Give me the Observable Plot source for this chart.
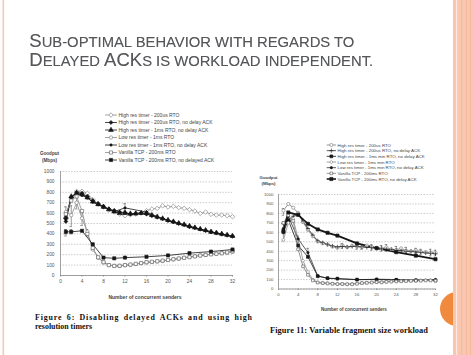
<!DOCTYPE html>
<html><head><meta charset="utf-8">
<script src="https://cdn.jsdelivr.net/npm/d3@7"></script>
<script src="https://cdn.jsdelivr.net/npm/@observablehq/plot@0.6"></script>
<style>
html,body{margin:0;padding:0;background:#fff;}
#page{position:relative;width:474px;height:355px;overflow:hidden;background:#fff;}
#page > svg{position:absolute;}
</style>
</head><body><div id="page"></div>
<script>
// ---------- data ----------
const xTicks = [0, 4, 8, 12, 16, 20, 24, 28, 32];
const yTicks = [0, 100, 200, 300, 400, 500, 600, 700, 800, 900, 1000];
const xDense = [1,2,3,4,5,6,7,8,9,10,11,12,13,14,15,16,17,18,19,20,21,22,23,24,25,26,27,28,29,30,31,32];
const xSparse = [1,2,4,6,8,10,12,16,20,24,28,32];
const xSparse2 = [1,2,3,4,5,6,7,8,9,10,12,16,20,24,28,32];

const leftLegend = [
  "High res timer - 200us RTO",
  "High res timer - 200us RTO, no delay ACK",
  "High res timer - 1ms RTO, no delay ACK",
  "Low res timer - 1ms RTO",
  "Low res timer - 1ms RTO, no delay ACK",
  "Vanilla TCP - 200ms RTO",
  "Vanilla TCP - 200ms RTO, no delayed ACK"
];
const rightLegend = [
  "High res timer - 200us RTO",
  "High res timer - 200us RTO, no delay ACK",
  "High res timer - 1ms min RTO, no delay ACK",
  "Low res timer - 1ms min RTO",
  "Low res timer - 1ms min RTO, no delay ACK",
  "Vanilla TCP - 200ms RTO",
  "Vanilla TCP - 200ms RTO, no delay ACK"
];

// Figure 6 (left)
const leftHiRes200 = [560,740,810,810,790,730,690,660,630,610,590,575,585,590,600,623,640,645,670,658,665,652,645,633,620,597,610,588,581,581,575,565];
const leftHiRes200NoDelay = [520,750,800,790,760,720,690,665,640,625,610,605,590,598,600,590,575,560,545,530,515,500,488,470,458,445,432,420,408,397,387,378];
const leftHiRes1msNoDelay = [560,760,790,780,750,710,685,660,635,615,600,600,595,595,600,600,580,565,548,533,518,503,490,475,460,447,435,420,410,400,390,380];
const leftLoRes1ms = [610,580,700,550,420,250,170,125,100,92,93,98,103,110,118,125,130,135,140,148,155,162,170,178,185,192,198,205,210,215,220,228];
const leftLoRes1msNoDelay = [540,750,790,770,745,705,680,655,640,615,650,610,525,465,415,375];
const leftVanilla = [590,720,760,620,400,265,175,128,100,92,93,100,105,112,120,128,132,137,143,150,156,163,170,176,184,192,198,204,209,214,222,232];
const leftVanillaNoDelay = [420,420,430,300,172,165,172,180,193,215,230,250];
const leftErrX  = [1,1,2,2,3,4,5,12,1];
const leftErrLo = [540,400,470,400,640,480,380,620,380];
const leftErrHi = [660,440,670,440,760,620,440,690,440];

// Figure 11 (right)
const rightHiRes200 = [830,900,860,805,707,625,558,502,484,470,449,435,463,442,459,449,442,459,445,435,430,440,420,415,430,405,400,410,395,390,385,385];
const rightHiRes200NoDelay = [690,720,770,790,720,640,570,510,490,472,455,445,450,445,450,452,446,440,438,432,428,420,418,410,405,400,398,392,387,382,378,372];
const rightHiRes1msNoDelay = [600,730,460,340,135,115,110,100,100,97,92,90];
const rightLoRes1ms = [520,700,740,530,300,180,100,70,65,62,58,55,55,52,55,60,65,68,70,75,72,78,80,82,85,85,88,88,90,92,92,95];
const rightLoRes1msNoDelay = [640,770,530,385,140,112,108,98,104,100,95,100];
const rightVanilla = [700,780,720,420,240,150,90,68,62,58,55,52,52,50,50,55,62,65,68,72,70,75,78,80,82,84,86,88,88,90,90,88];
const rightVanillaNoDelay = [615,810,785,690,630,595,565,482,432,390,353,315];
const rightErrX  = [1,1,4,6,13,16,17,19,21,22,24,26,28,29,31,32];
const rightErrLo = [510,780,480,330,430,420,420,410,400,400,380,380,370,360,350,350];
const rightErrHi = [700,850,560,430,480,480,470,470,460,470,450,440,430,420,420,410];

// ---------- styles ----------
const GRAY = "#8a8a8a", BLACK = "#161616";
const leftSeries = [
  {x: xDense,   y: leftHiRes200,        line: GRAY,  sym: "diamond2", fill: "#fff", stroke: "#777", r: 2.0},
  {x: xDense,   y: leftHiRes200NoDelay, line: BLACK, sym: "diamond2", fill: BLACK, stroke: BLACK, r: 1.8},
  {x: xDense,   y: leftHiRes1msNoDelay, line: BLACK, sym: "triangle", fill: BLACK, stroke: BLACK, r: 1.8},
  {x: xDense,   y: leftLoRes1ms,        line: GRAY,  sym: "circle",   fill: "#fff", stroke: "#777", r: 1.7},
  {x: xSparse2, y: leftLoRes1msNoDelay, line: BLACK, sym: "circle",   fill: BLACK, stroke: BLACK, r: 1.2},
  {x: xDense,   y: leftVanilla,         line: GRAY,  sym: "square",   fill: "#fff", stroke: "#555", r: 1.8},
  {x: xSparse,  y: leftVanillaNoDelay,  line: BLACK, sym: "square",   fill: BLACK, stroke: BLACK, r: 1.8}
];
const rightSeries = [
  {x: xDense,  y: rightHiRes200,        line: GRAY,  sym: "circle",   fill: "#fff", stroke: "#777", r: 1.6, sw: 0.9},
  {x: xDense,  y: rightHiRes200NoDelay, line: BLACK, sym: "plus",     fill: "none", stroke: BLACK, r: 1.5, sw: 0.7},
  {x: xSparse, y: rightHiRes1msNoDelay, line: BLACK, sym: "square",   fill: BLACK, stroke: BLACK, r: 1.6, sw: 0.8},
  {x: xDense,  y: rightLoRes1ms,        line: GRAY,  sym: "diamond2", fill: "#fff", stroke: "#777", r: 1.5, sw: 0.8},
  {x: xSparse, y: rightLoRes1msNoDelay, line: BLACK, sym: "circle",   fill: BLACK, stroke: BLACK, r: 1.2, sw: 0.7},
  {x: xDense,  y: rightVanilla,         line: GRAY,  sym: "square",   fill: "#fff", stroke: "#555", r: 1.5, sw: 0.9},
  {x: xSparse, y: rightVanillaNoDelay,  line: BLACK, sym: "square",   fill: BLACK, stroke: BLACK, r: 1.8, sw: 1.8}
];

function seriesMarks(list, defaultSw) {
  const marks = [];
  for (const s of list) {
    const data = s.x.map((x, i) => ({x, y: s.y[i]}));
    marks.push(Plot.line(data, {x: "x", y: "y", stroke: s.line, strokeWidth: s.sw || defaultSw}));
  }
  for (const s of list) {
    const data = s.x.map((x, i) => ({x, y: s.y[i]}));
    marks.push(Plot.dot(data, {x: "x", y: "y", symbol: () => s.sym, r: s.r, fill: s.fill, stroke: s.stroke, strokeWidth: 0.6}));
  }
  return marks;
}
function errMarks(xs, lo, hi, color) {
  const data = xs.map((x, i) => ({x, lo: lo[i], hi: hi[i]}));
  return [
    Plot.ruleX(data, {x: "x", y1: "lo", y2: "hi", stroke: color, strokeWidth: 0.6}),
    Plot.ruleY(data, {y: "lo", x1: d => d.x - 0.25, x2: d => d.x + 0.25, stroke: color, strokeWidth: 0.6}),
    Plot.ruleY(data, {y: "hi", x1: d => d.x - 0.25, x2: d => d.x + 0.25, stroke: color, strokeWidth: 0.6})
  ];
}

function chart(opts, series, errs, fontSize, sw) {
  return Plot.plot({
    width: opts.width, height: opts.height,
    marginLeft: opts.ml, marginRight: opts.mr, marginTop: opts.mt, marginBottom: opts.mb,
    x: {domain: [0, 32]},
    y: {domain: [0, 1000]},
    style: {fontSize: fontSize + "px", fontFamily: "'Liberation Sans', Arial, sans-serif", color: "#555", background: "transparent", overflow: "visible"},
    marks: [
      Plot.gridY(yTicks, {stroke: "#9a9a9a", strokeOpacity: 0.9, strokeDasharray: "1.4,1.4", strokeWidth: 0.6}),
      Plot.ruleX([0], {stroke: "#8a8a8a", strokeWidth: 0.8}),
      Plot.ruleY([0], {stroke: "#8a8a8a", strokeWidth: 0.8}),
      Plot.axisX({ticks: xTicks, tickSize: 1.5, tickPadding: 2.5, label: null, stroke: "#8a8a8a", fill: "#555", tickFormat: d => String(d)}),
      Plot.axisY({ticks: yTicks, tickSize: 0, tickPadding: opts.tp, label: null, fill: "#555", tickFormat: d => String(d)}),
      ...errMarks(errs[0], errs[1], errs[2], "#555"),
      ...seriesMarks(series, sw)
    ]
  });
}

const page = document.getElementById("page");

const left = chart({width: 210, height: 160, ml: 30, mr: 8, mt: 21, mb: 35, tp: 6}, leftSeries, [leftErrX, leftErrLo, leftErrHi], 4.8, 0.8);
left.style.left = "30px"; left.style.top = "150px";
page.appendChild(left);

const right = chart({width: 190, height: 122, ml: 23, mr: 10, mt: 9, mb: 18.5, tp: 5}, rightSeries, [rightErrX, rightErrLo, rightErrHi], 4.3, 0.8);
right.style.left = "255px"; right.style.top = "185px";
page.appendChild(right);

// ---------- overlay: slide decoration, title, legends, captions ----------
const ov = d3.select(page).append("svg").attr("width", 474).attr("height", 355)
  .style("left", "0px").style("top", "0px").style("pointer-events", "none");

ov.append("rect").attr("x", 2.5).attr("y", 0).attr("width", 1.6).attr("height", 355).attr("fill", "#f5c7b6");
ov.append("circle").attr("cx", 457).attr("cy", 309).attr("r", 17).attr("fill", "#f08a3c");
ov.append("rect").attr("x", 453).attr("y", 0).attr("width", 21).attr("height", 355).attr("fill", "#f9c7b0");
ov.append("rect").attr("x", 456).attr("y", 0).attr("width", 1.2).attr("height", 355).attr("fill", "#fde6dc");
[461, 466, 470].forEach(x => ov.append("rect").attr("x", x).attr("y", 0).attr("width", 1).attr("height", 355).attr("fill", "#f4b89e"));

const tf = "'Liberation Sans', Arial, sans-serif";
function titleLine(y, parts) {
  const t = ov.append("text").attr("x", 29.3).attr("y", y).attr("fill", "#56575a")
    .attr("font-family", tf).style("filter", "drop-shadow(0.4px 0.6px 0.4px rgba(0,0,0,0.3))");
  parts.forEach(p => t.append("tspan").attr("font-size", p[1] ? 18.5 : 14.8).text(p[0]));
}
titleLine(46.7, [["S", true], ["UB-OPTIMAL BEHAVIOR WITH REGARDS TO", false]]);
titleLine(66, [["D", true], ["ELAYED ", false], ["ACK", true], ["S IS WORKLOAD INDEPENDENT.", false]]);

const symMap = {circle: d3.symbolCircle, diamond2: d3.symbolDiamond2, square: d3.symbolSquare, triangle: d3.symbolTriangle, plus: d3.symbolPlus};
function legend(x0, x1, y0, dy, fs, labels, series, scale) {
  labels.forEach((lab, i) => {
    const s = series[i], y = y0 + i * dy;
    ov.append("line").attr("x1", x0).attr("x2", x1).attr("y1", y).attr("y2", y)
      .attr("stroke", s.line).attr("stroke-width", s.sw ? Math.min(s.sw, 1.6) : 0.8);
    ov.append("path").attr("transform", `translate(${(x0 + x1) / 2},${y})`)
      .attr("d", d3.symbol().type(symMap[s.sym]).size(Math.PI * (s.r * scale) ** 2)())
      .attr("fill", s.fill).attr("stroke", s.stroke).attr("stroke-width", 0.6);
    ov.append("text").attr("x", x1 + 1.5).attr("y", y + fs * 0.35).attr("font-size", fs)
      .attr("font-family", tf).attr("fill", "#444").text(lab);
  });
}
legend(105, 117, 115, 7.5, 5, leftLegend, leftSeries, 1);
legend(326.7, 336, 145, 5.67, 4.4, rightLegend, rightSeries, 1);

function label(x, y, fs, txt, anchor) {
  ov.append("text").attr("x", x).attr("y", y).attr("font-size", fs).attr("font-weight", "bold")
    .attr("font-family", tf).attr("fill", "#444").attr("text-anchor", anchor || "middle").text(txt);
}
label(49.5, 154.5, 4.6, "Goodput");
label(49.5, 161.8, 4.6, "(Mbps)");
label(268.5, 178.5, 4.3, "Goodput");
label(268.5, 184.5, 4.3, "(Mbps)");
label(145, 298.5, 5, "Number of concurrent senders");
label(354, 310.5, 4.5, "Number of concurrent senders");

const cf = "'Liberation Serif', 'Times New Roman', serif";
ov.append("text").attr("x", 35).attr("y", 320).attr("font-size", 7.9).attr("font-weight", "bold")
  .attr("font-family", cf).attr("fill", "#111").attr("textLength", 217).attr("lengthAdjust", "spacing")
  .attr("word-spacing", 1.5)
  .text("Figure 6:  Disabling delayed ACKs and using high");
ov.append("text").attr("x", 35).attr("y", 329.2).attr("font-size", 7.9).attr("font-weight", "bold")
  .attr("font-family", cf).attr("fill", "#111").text("resolution timers");
ov.append("text").attr("x", 270).attr("y", 333).attr("font-size", 8.4).attr("font-weight", "bold")
  .attr("font-family", cf).attr("fill", "#111").attr("textLength", 158).attr("lengthAdjust", "spacing")
  .text("Figure 11:  Variable fragment size workload");
</script>
</body></html>
